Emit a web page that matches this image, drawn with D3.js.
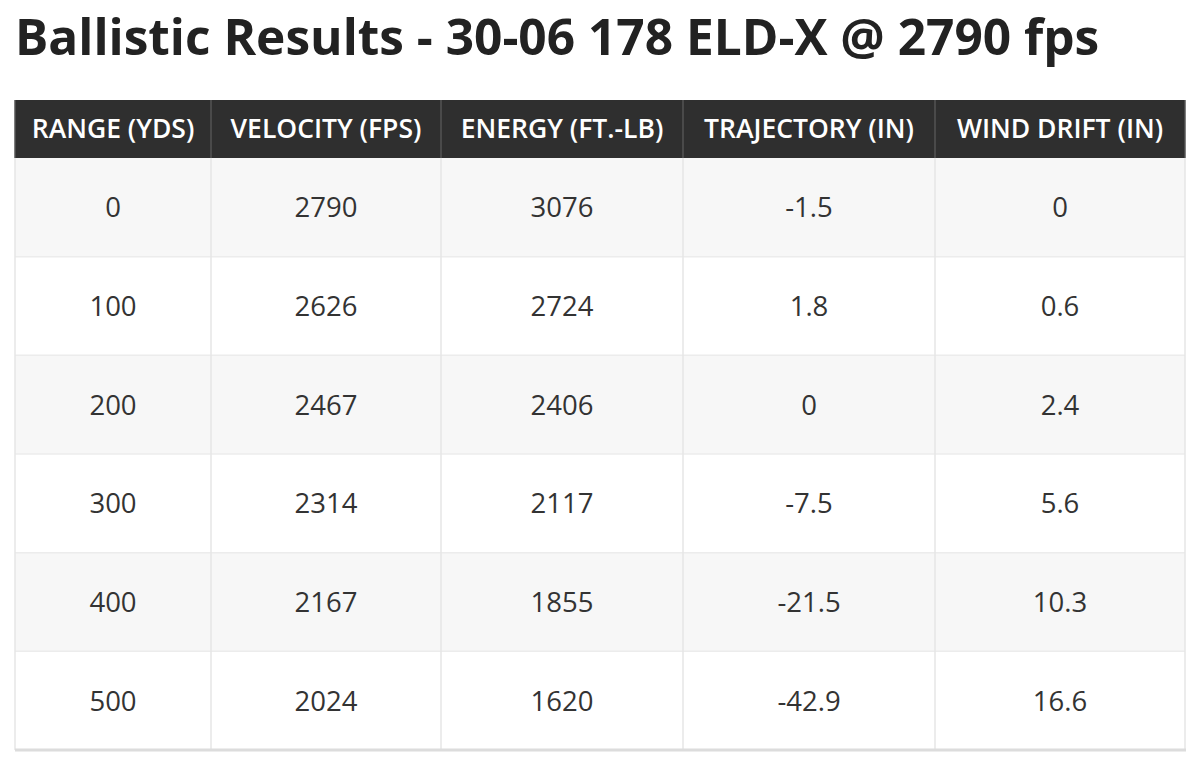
<!DOCTYPE html>
<html><head><meta charset="utf-8">
<script src="https://cdn.jsdelivr.net/npm/d3@7"></script>
<style>body{margin:0;background:#fff}</style></head>
<body><svg id="c" width="1200" height="762"></svg>
<script>
const title = "Ballistic Results - 30-06 178 ELD-X @ 2790 fps";
const headers = ["RANGE (YDS)","VELOCITY (FPS)","ENERGY (FT.-LB)","TRAJECTORY (IN)","WIND DRIFT (IN)"];
const range = ["0","100","200","300","400","500"];
const velocity = ["2790","2626","2467","2314","2167","2024"];
const energy = ["3076","2724","2406","2117","1855","1620"];
const trajectory = ["-1.5","1.8","0","-7.5","-21.5","-42.9"];
const windDrift = ["0","0.6","2.4","5.6","10.3","16.6"];
const columns = [range, velocity, energy, trajectory, windDrift];
const colEdges = [15, 211, 441, 683, 935, 1185];

const svg = d3.select("#c");
const font = "'Open Sans', sans-serif";
svg.append("text").attr("x",15).attr("y",55).attr("font-family",font)
  .attr("font-weight",700).attr("font-size",49.6).attr("fill","#222").text(title);

const y = d3.scaleBand().domain(d3.range(range.length)).range([158,750]);
const hdrTop = 100, hdrBot = 158;

svg.append("rect").attr("x",15).attr("y",hdrTop).attr("width",1170).attr("height",hdrBot-hdrTop).attr("fill","#2f2f2f");
svg.selectAll("rect.row").data(range).join("rect").attr("class","row")
  .attr("x",15).attr("y",(d,i)=>y(i)).attr("width",1170).attr("height",y.bandwidth())
  .attr("fill",(d,i)=>i%2===0?"#f7f7f7":"#ffffff");
svg.selectAll("line.h").data(d3.range(1,range.length)).join("line")
  .attr("x1",15).attr("x2",1185).attr("y1",i=>y(i)).attr("y2",i=>y(i))
  .attr("stroke","#ececec").attr("stroke-width",1.5);
colEdges.forEach((x,i)=>{
  svg.append("line").attr("x1",x).attr("x2",x).attr("y1",hdrTop).attr("y2",hdrBot)
    .attr("stroke","#555").attr("stroke-width",1.5);
  svg.append("line").attr("x1",x).attr("x2",x).attr("y1",hdrBot).attr("y2",750)
    .attr("stroke","#e6e6e6").attr("stroke-width",1.5);
});
svg.append("line").attr("x1",15).attr("x2",1186).attr("y1",750).attr("y2",750)
  .attr("stroke","#dcdcdc").attr("stroke-width",3);

headers.forEach((h,c)=>{
  const cx=(colEdges[c]+colEdges[c+1])/2;
  svg.append("text").attr("x",cx).attr("y",(hdrTop+hdrBot)/2+9).attr("text-anchor","middle")
    .attr("font-family",font).attr("font-weight",600).attr("font-size",26.5).attr("fill","#fff").text(h);
  svg.selectAll(null).data(columns[c]).join("text")
    .attr("x",cx).attr("y",(d,i)=>y(i)+y.bandwidth()/2+10).attr("text-anchor","middle")
    .attr("font-family",font).attr("font-size",27.5).attr("fill","#333").text(d=>d);
});
</script></body></html>
